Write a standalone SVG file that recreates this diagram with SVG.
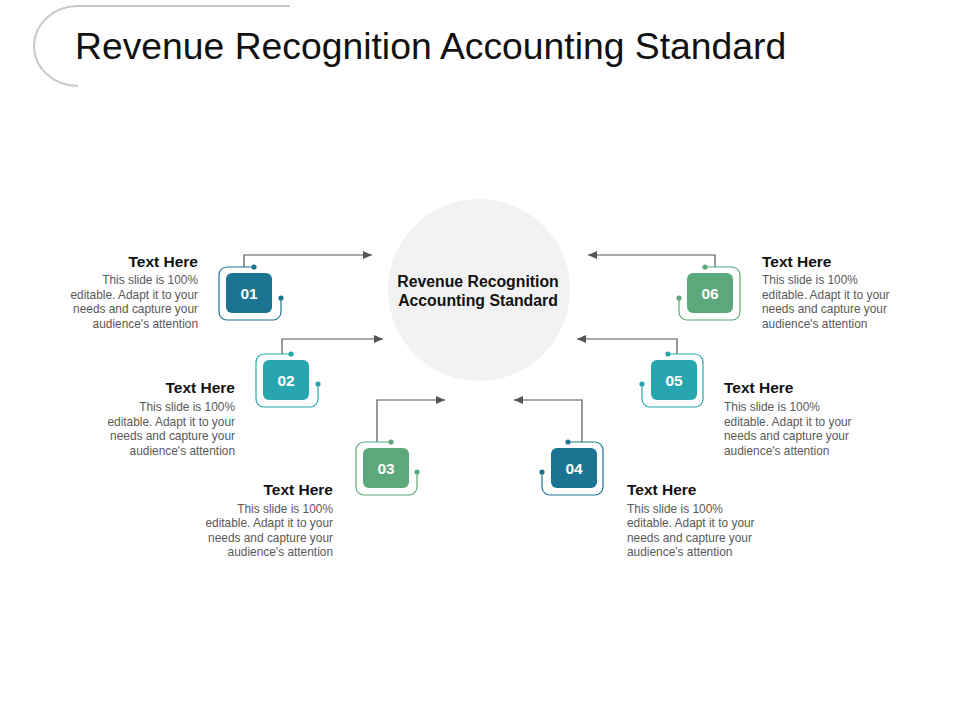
<svg xmlns="http://www.w3.org/2000/svg" width="960" height="720" viewBox="0 0 960 720">
<defs>
<marker id="arr" markerUnits="userSpaceOnUse" markerWidth="10" markerHeight="10" viewBox="0 0 10 10" refX="9" refY="5" orient="auto">
<path d="M0,1 L9,5 L0,9 Z" fill="#555555"/>
</marker>
<style>
.title{font-family:"Liberation Sans",Arial,sans-serif;font-size:37.3px;fill:#111111}
.center{font-family:"Liberation Sans",Arial,sans-serif;font-size:15.8px;font-weight:bold;fill:#111111;text-anchor:middle}
.num{font-family:"Liberation Sans",Arial,sans-serif;font-size:15.5px;font-weight:bold;fill:#ffffff;text-anchor:middle}
.head{font-family:"Liberation Sans",Arial,sans-serif;font-size:15.5px;font-weight:bold;fill:#111111}
.body{font-family:"Liberation Sans",Arial,sans-serif;font-size:11.9px;fill:#595959}
.r{text-anchor:end}
.l{text-anchor:start}
.conn{fill:none;stroke:#555555;stroke-width:1.2;marker-end:url(#arr)}
.frame{fill:none;stroke-width:1.2}
.c1{fill:#1b7592}.s1{stroke:#1b7592}
.c2{fill:#27a6b0}.s2{stroke:#27a6b0}
.c3{fill:#5ba87a}.s3{stroke:#5ba87a}
</style>
</defs>
<rect width="960" height="720" fill="#ffffff"/>
<g id="title-deco">
<path d="M290,6 H78 A44,40 0 0 0 78,86" fill="none" stroke="#c8c8c8" stroke-width="2"/>
<text class="title" x="75" y="59">Revenue Recognition Accounting Standard</text>
</g>
<g id="connectors">
<path class="conn" d="M244,267 V255 H372"/>
<path class="conn" d="M282,354 V339 H383"/>
<path class="conn" d="M377,442 V400 H445"/>
<path class="conn" d="M582,442 V400 H514"/>
<path class="conn" d="M677,354 V339 H577"/>
<path class="conn" d="M715,267 V255 H588"/>
</g>
<g id="center">
<circle cx="479" cy="290" r="91" fill="#f2f2f2"/>
<text class="center" x="478" y="287">Revenue Recognition</text>
<text class="center" x="478" y="306">Accounting Standard</text>
</g>
<g id="node-01">
<path class="frame s1" d="M254,267 H227 A8,8 0 0 0 219,275 V312 A8,8 0 0 0 227,320 H273 A8,8 0 0 0 281,312 V298"/>
<circle class="c1" cx="254" cy="267" r="2.6"/>
<circle class="c1" cx="281" cy="298" r="2.6"/>
<rect class="c1" x="226" y="273" width="46" height="40" rx="6"/>
<text class="num" x="249" y="298.5">01</text>
<text class="head r" x="198" y="267">Text Here</text>
<text class="body r" x="198" y="284">This slide is 100%</text>
<text class="body r" x="198" y="298.5">editable. Adapt it to your</text>
<text class="body r" x="198" y="313">needs and capture your</text>
<text class="body r" x="198" y="327.5">audience's attention</text>
</g>
<g id="node-02">
<path class="frame s2" d="M291,354 H264 A8,8 0 0 0 256,362 V399 A8,8 0 0 0 264,407 H310 A8,8 0 0 0 318,399 V384"/>
<circle class="c2" cx="291" cy="354" r="2.6"/>
<circle class="c2" cx="318" cy="384" r="2.6"/>
<rect class="c2" x="263" y="360" width="46" height="40" rx="6"/>
<text class="num" x="286" y="385.5">02</text>
<text class="head r" x="235" y="393">Text Here</text>
<text class="body r" x="235" y="411">This slide is 100%</text>
<text class="body r" x="235" y="425.5">editable. Adapt it to your</text>
<text class="body r" x="235" y="440">needs and capture your</text>
<text class="body r" x="235" y="454.5">audience's attention</text>
</g>
<g id="node-03">
<path class="frame s3" d="M391,442 H364 A8,8 0 0 0 356,450 V487 A8,8 0 0 0 364,495 H409 A8,8 0 0 0 417,487 V472"/>
<circle class="c3" cx="391" cy="442" r="2.6"/>
<circle class="c3" cx="417" cy="472" r="2.6"/>
<rect class="c3" x="363" y="448" width="46" height="40" rx="6"/>
<text class="num" x="386" y="473.5">03</text>
<text class="head r" x="333" y="495">Text Here</text>
<text class="body r" x="333" y="512.5">This slide is 100%</text>
<text class="body r" x="333" y="527">editable. Adapt it to your</text>
<text class="body r" x="333" y="541.5">needs and capture your</text>
<text class="body r" x="333" y="556">audience's attention</text>
</g>
<g id="node-04">
<path class="frame s1" d="M568,442 H595 A8,8 0 0 1 603,450 V487 A8,8 0 0 1 595,495 H550 A8,8 0 0 1 542,487 V472"/>
<circle class="c1" cx="568" cy="442" r="2.6"/>
<circle class="c1" cx="542" cy="472" r="2.6"/>
<rect class="c1" x="551" y="448" width="46" height="40" rx="6"/>
<text class="num" x="574" y="473.5">04</text>
<text class="head l" x="627" y="495">Text Here</text>
<text class="body l" x="627" y="512.5">This slide is 100%</text>
<text class="body l" x="627" y="527">editable. Adapt it to your</text>
<text class="body l" x="627" y="541.5">needs and capture your</text>
<text class="body l" x="627" y="556">audience's attention</text>
</g>
<g id="node-05">
<path class="frame s2" d="M668,354 H695 A8,8 0 0 1 703,362 V399 A8,8 0 0 1 695,407 H650 A8,8 0 0 1 642,399 V384"/>
<circle class="c2" cx="668" cy="354" r="2.6"/>
<circle class="c2" cx="642" cy="384" r="2.6"/>
<rect class="c2" x="651" y="360" width="46" height="40" rx="6"/>
<text class="num" x="674" y="385.5">05</text>
<text class="head l" x="724" y="393">Text Here</text>
<text class="body l" x="724" y="411">This slide is 100%</text>
<text class="body l" x="724" y="425.5">editable. Adapt it to your</text>
<text class="body l" x="724" y="440">needs and capture your</text>
<text class="body l" x="724" y="454.5">audience's attention</text>
</g>
<g id="node-06">
<path class="frame s3" d="M705,267 H732 A8,8 0 0 1 740,275 V312 A8,8 0 0 1 732,320 H687 A8,8 0 0 1 679,312 V298"/>
<circle class="c3" cx="705" cy="267" r="2.6"/>
<circle class="c3" cx="679" cy="298" r="2.6"/>
<rect class="c3" x="687" y="273" width="46" height="40" rx="6"/>
<text class="num" x="710" y="298.5">06</text>
<text class="head l" x="762" y="267">Text Here</text>
<text class="body l" x="762" y="284">This slide is 100%</text>
<text class="body l" x="762" y="298.5">editable. Adapt it to your</text>
<text class="body l" x="762" y="313">needs and capture your</text>
<text class="body l" x="762" y="327.5">audience's attention</text>
</g>
</svg>
